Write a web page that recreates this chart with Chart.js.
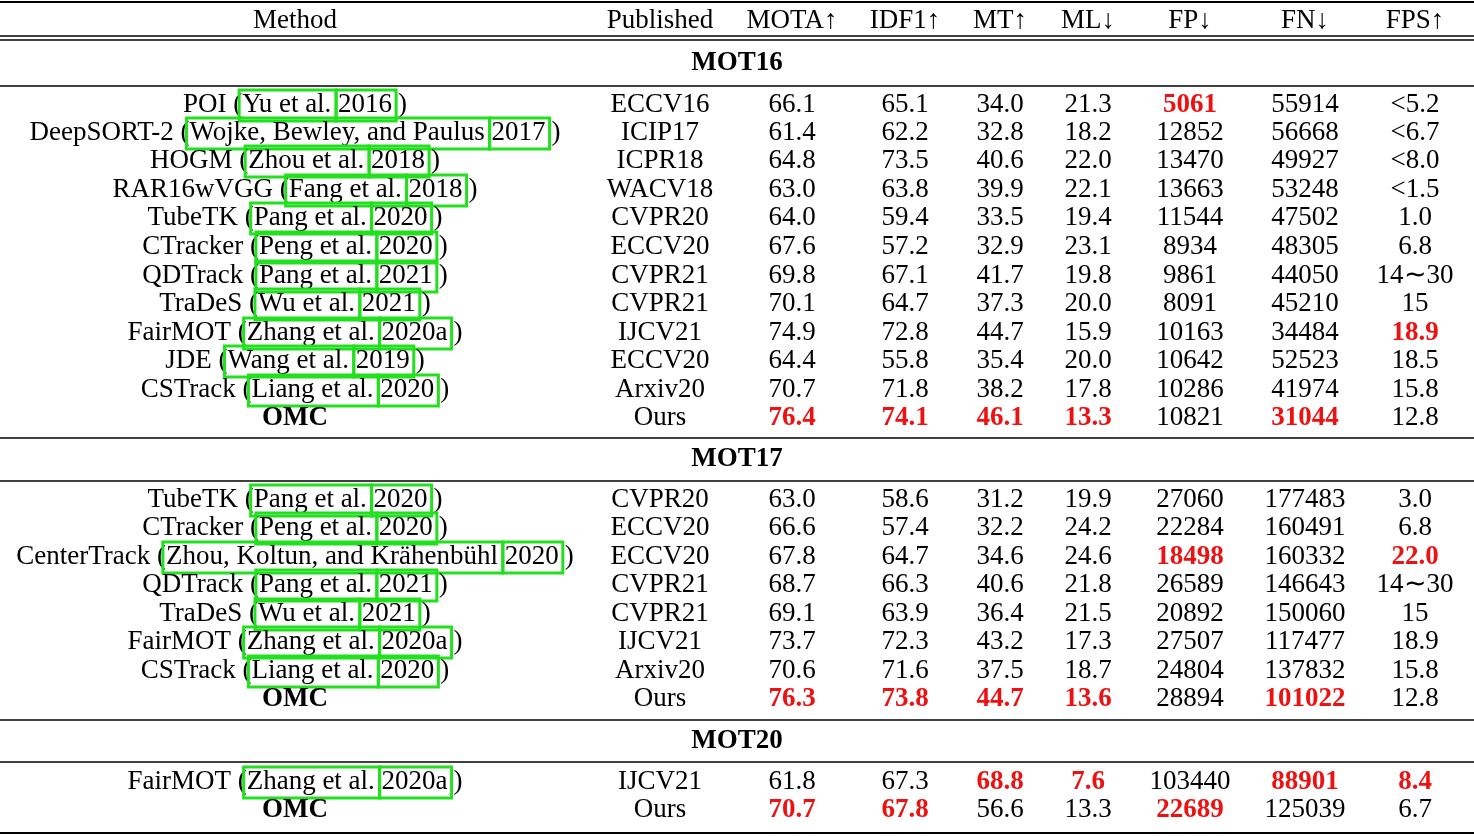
<!DOCTYPE html>
<html><head><meta charset="utf-8">
<script src="https://cdn.jsdelivr.net/npm/chart.js@4"></script>
<style>html,body{margin:0;background:#fff}#wrap{width:1474px;height:836px}</style>
</head><body><div id="wrap"><canvas id="tbl"></canvas></div>
<script>
// column headers and their centres (layout units = page px)
const headers = ['Method', 'Published', 'MOTA\u2191', 'IDF1\u2191', 'MT\u2191', 'ML\u2193', 'FP\u2193', 'FN\u2193', 'FPS\u2191'];
const colX = [295, 660, 792, 905, 1000, 1088, 1190, 1305, 1415];

const sections = ['MOT16', 'MOT17', 'MOT20'];
const sectionY = [63, 459, 741];
const ruleY = [86, 438, 481, 720, 762];

// rows
const methods = ['POI', 'DeepSORT-2', 'HOGM', 'RAR16wVGG', 'TubeTK', 'CTracker', 'QDTrack', 'TraDeS', 'FairMOT', 'JDE', 'CSTrack', 'OMC',
  'TubeTK', 'CTracker', 'CenterTrack', 'QDTrack', 'TraDeS', 'FairMOT', 'CSTrack', 'OMC',
  'FairMOT', 'OMC'];
const citeAuthors = ['Yu et al.', 'Wojke, Bewley, and Paulus', 'Zhou et al.', 'Fang et al.', 'Pang et al.', 'Peng et al.', 'Pang et al.', 'Wu et al.', 'Zhang et al.', 'Wang et al.', 'Liang et al.', '',
  'Pang et al.', 'Peng et al.', 'Zhou, Koltun, and Krähenbühl', 'Pang et al.', 'Wu et al.', 'Zhang et al.', 'Liang et al.', '',
  'Zhang et al.', ''];
const citeYears = ['2016', '2017', '2018', '2018', '2020', '2020', '2021', '2021', '2020a', '2019', '2020', '',
  '2020', '2020', '2020', '2021', '2021', '2020a', '2020', '',
  '2020a', ''];
const published = ['ECCV16', 'ICIP17', 'ICPR18', 'WACV18', 'CVPR20', 'ECCV20', 'CVPR21', 'CVPR21', 'IJCV21', 'ECCV20', 'Arxiv20', 'Ours',
  'CVPR20', 'ECCV20', 'ECCV20', 'CVPR21', 'CVPR21', 'IJCV21', 'Arxiv20', 'Ours',
  'IJCV21', 'Ours'];
const mota = ['66.1', '61.4', '64.8', '63.0', '64.0', '67.6', '69.8', '70.1', '74.9', '64.4', '70.7', '76.4',
  '63.0', '66.6', '67.8', '68.7', '69.1', '73.7', '70.6', '76.3', '61.8', '70.7'];
const idf1 = ['65.1', '62.2', '73.5', '63.8', '59.4', '57.2', '67.1', '64.7', '72.8', '55.8', '71.8', '74.1',
  '58.6', '57.4', '64.7', '66.3', '63.9', '72.3', '71.6', '73.8', '67.3', '67.8'];
const mt = ['34.0', '32.8', '40.6', '39.9', '33.5', '32.9', '41.7', '37.3', '44.7', '35.4', '38.2', '46.1',
  '31.2', '32.2', '34.6', '40.6', '36.4', '43.2', '37.5', '44.7', '68.8', '56.6'];
const ml = ['21.3', '18.2', '22.0', '22.1', '19.4', '23.1', '19.8', '20.0', '15.9', '20.0', '17.8', '13.3',
  '19.9', '24.2', '24.6', '21.8', '21.5', '17.3', '18.7', '13.6', '7.6', '13.3'];
const fp = ['5061', '12852', '13470', '13663', '11544', '8934', '9861', '8091', '10163', '10642', '10286', '10821',
  '27060', '22284', '18498', '26589', '20892', '27507', '24804', '28894', '103440', '22689'];
const fn = ['55914', '56668', '49927', '53248', '47502', '48305', '44050', '45210', '34484', '52523', '41974', '31044',
  '177483', '160491', '160332', '146643', '150060', '117477', '137832', '101022', '88901', '125039'];
const fps = ['<5.2', '<6.7', '<8.0', '<1.5', '1.0', '6.8', '14\u223c30', '15', '18.9', '18.5', '15.8', '12.8',
  '3.0', '6.8', '22.0', '14\u223c30', '15', '18.9', '15.8', '12.8', '8.4', '6.7'];
const rowY = [105, 133, 161, 190, 218, 247, 276, 304, 333, 361, 390, 418,
  500, 528, 557, 585, 614, 642, 671, 699, 782, 810];
// best values (column index 2..8) per row
const bestCells = {0: [6], 8: [8], 11: [2, 3, 4, 5, 7], 14: [6, 8], 19: [2, 3, 4, 5, 7], 20: [4, 5, 7, 8], 21: [2, 3, 6]};

const cols = [null, published, mota, idf1, mt, ml, fp, fn, fps];
const cells = [];
rowY.forEach((y, r) => {
  for (let c = 0; c < 9; c++) cells.push({x: colX[c], y: y, r: r, c: c});
});
headers.forEach((h, c) => cells.push({x: colX[c], y: 21, r: -1, c: c}));
sections.forEach((s, i) => cells.push({x: 737, y: sectionY[i], r: -2, c: i}));

const FONT = '27px "Liberation Serif"';
const BOLD = 'bold 27px "Liberation Serif"';

const tablePlugin = {
  id: 'tablePlugin',
  afterDatasetsDraw(chart) {
    const ctx = chart.ctx, ys = chart.scales.y, xs = chart.scales.x;
    const left = xs.getPixelForValue(0), right = xs.getPixelForValue(1474);
    ctx.save();
    ctx.strokeStyle = '#000';
    const hl = (v, w) => { const p = ys.getPixelForValue(v); ctx.lineWidth = w; ctx.beginPath(); ctx.moveTo(left, p); ctx.lineTo(right, p); ctx.stroke(); };
    hl(2, 2); hl(36, 1.5); hl(40, 1.5); hl(833, 2);
    ruleY.forEach(v => hl(v, 1.5));
    ctx.textBaseline = 'middle';
    const pts = chart.getDatasetMeta(0).data;
    pts.forEach((pt, i) => {
      const d = cells[i];
      const px = pt.x, py = pt.y;
      ctx.fillStyle = '#000';
      if (d.r === -1) { ctx.font = FONT; ctx.textAlign = 'center'; ctx.fillText(headers[d.c], px, py); return; }
      if (d.r === -2) { ctx.font = BOLD; ctx.textAlign = 'center'; ctx.fillText(sections[d.c], px, py); return; }
      if (d.c === 0) {
        const name = methods[d.r];
        if (!citeAuthors[d.r]) { ctx.font = BOLD; ctx.textAlign = 'center'; ctx.fillText(name, px, py); return; }
        ctx.font = FONT; ctx.textAlign = 'left';
        const pre = name + ' (', a = citeAuthors[d.r], sp = ' ', yr = citeYears[d.r], post = ')';
        const wPre = ctx.measureText(pre).width, wA = ctx.measureText(a).width, wSp = ctx.measureText(sp).width;
        const wY = ctx.measureText(yr).width, wPost = ctx.measureText(post).width;
        let x = px - (wPre + wA + wSp + wY + wPost + 6) / 2;
        ctx.fillText(pre, x, py); x += wPre;
        const ax = x;
        ctx.fillText(a, x, py); x += wA + wSp;
        const yx = x;
        ctx.fillText(yr, x, py); x += wY + 6;
        ctx.fillText(post, x, py);
        ctx.strokeStyle = '#22e01e'; ctx.lineWidth = 3;
        ctx.strokeRect(ax - 3, py - 15, wA + wSp + 1, 31);
        ctx.strokeRect(yx - 2, py - 15, wY + 6, 31);
        return;
      }
      const best = (bestCells[d.r] || []).includes(d.c);
      ctx.font = best ? BOLD : FONT;
      ctx.fillStyle = best ? '#ee1111' : '#000';
      ctx.textAlign = 'center';
      ctx.fillText(cols[d.c][d.r], px, py);
    });
    ctx.restore();
  }
};

new Chart(document.getElementById('tbl'), {
  type: 'scatter',
  data: { datasets: [{ data: cells, pointRadius: 0, pointHoverRadius: 0 }] },
  options: {
    responsive: true,
    maintainAspectRatio: false,
    animation: false,
    events: [],
    layout: { padding: 0 },
    plugins: { legend: { display: false }, tooltip: { enabled: false } },
    scales: {
      x: { type: 'linear', min: 0, max: 1474, display: false },
      y: { type: 'linear', min: 0, max: 836, reverse: true, display: false }
    }
  },
  plugins: [tablePlugin]
});
</script>
</body></html>
